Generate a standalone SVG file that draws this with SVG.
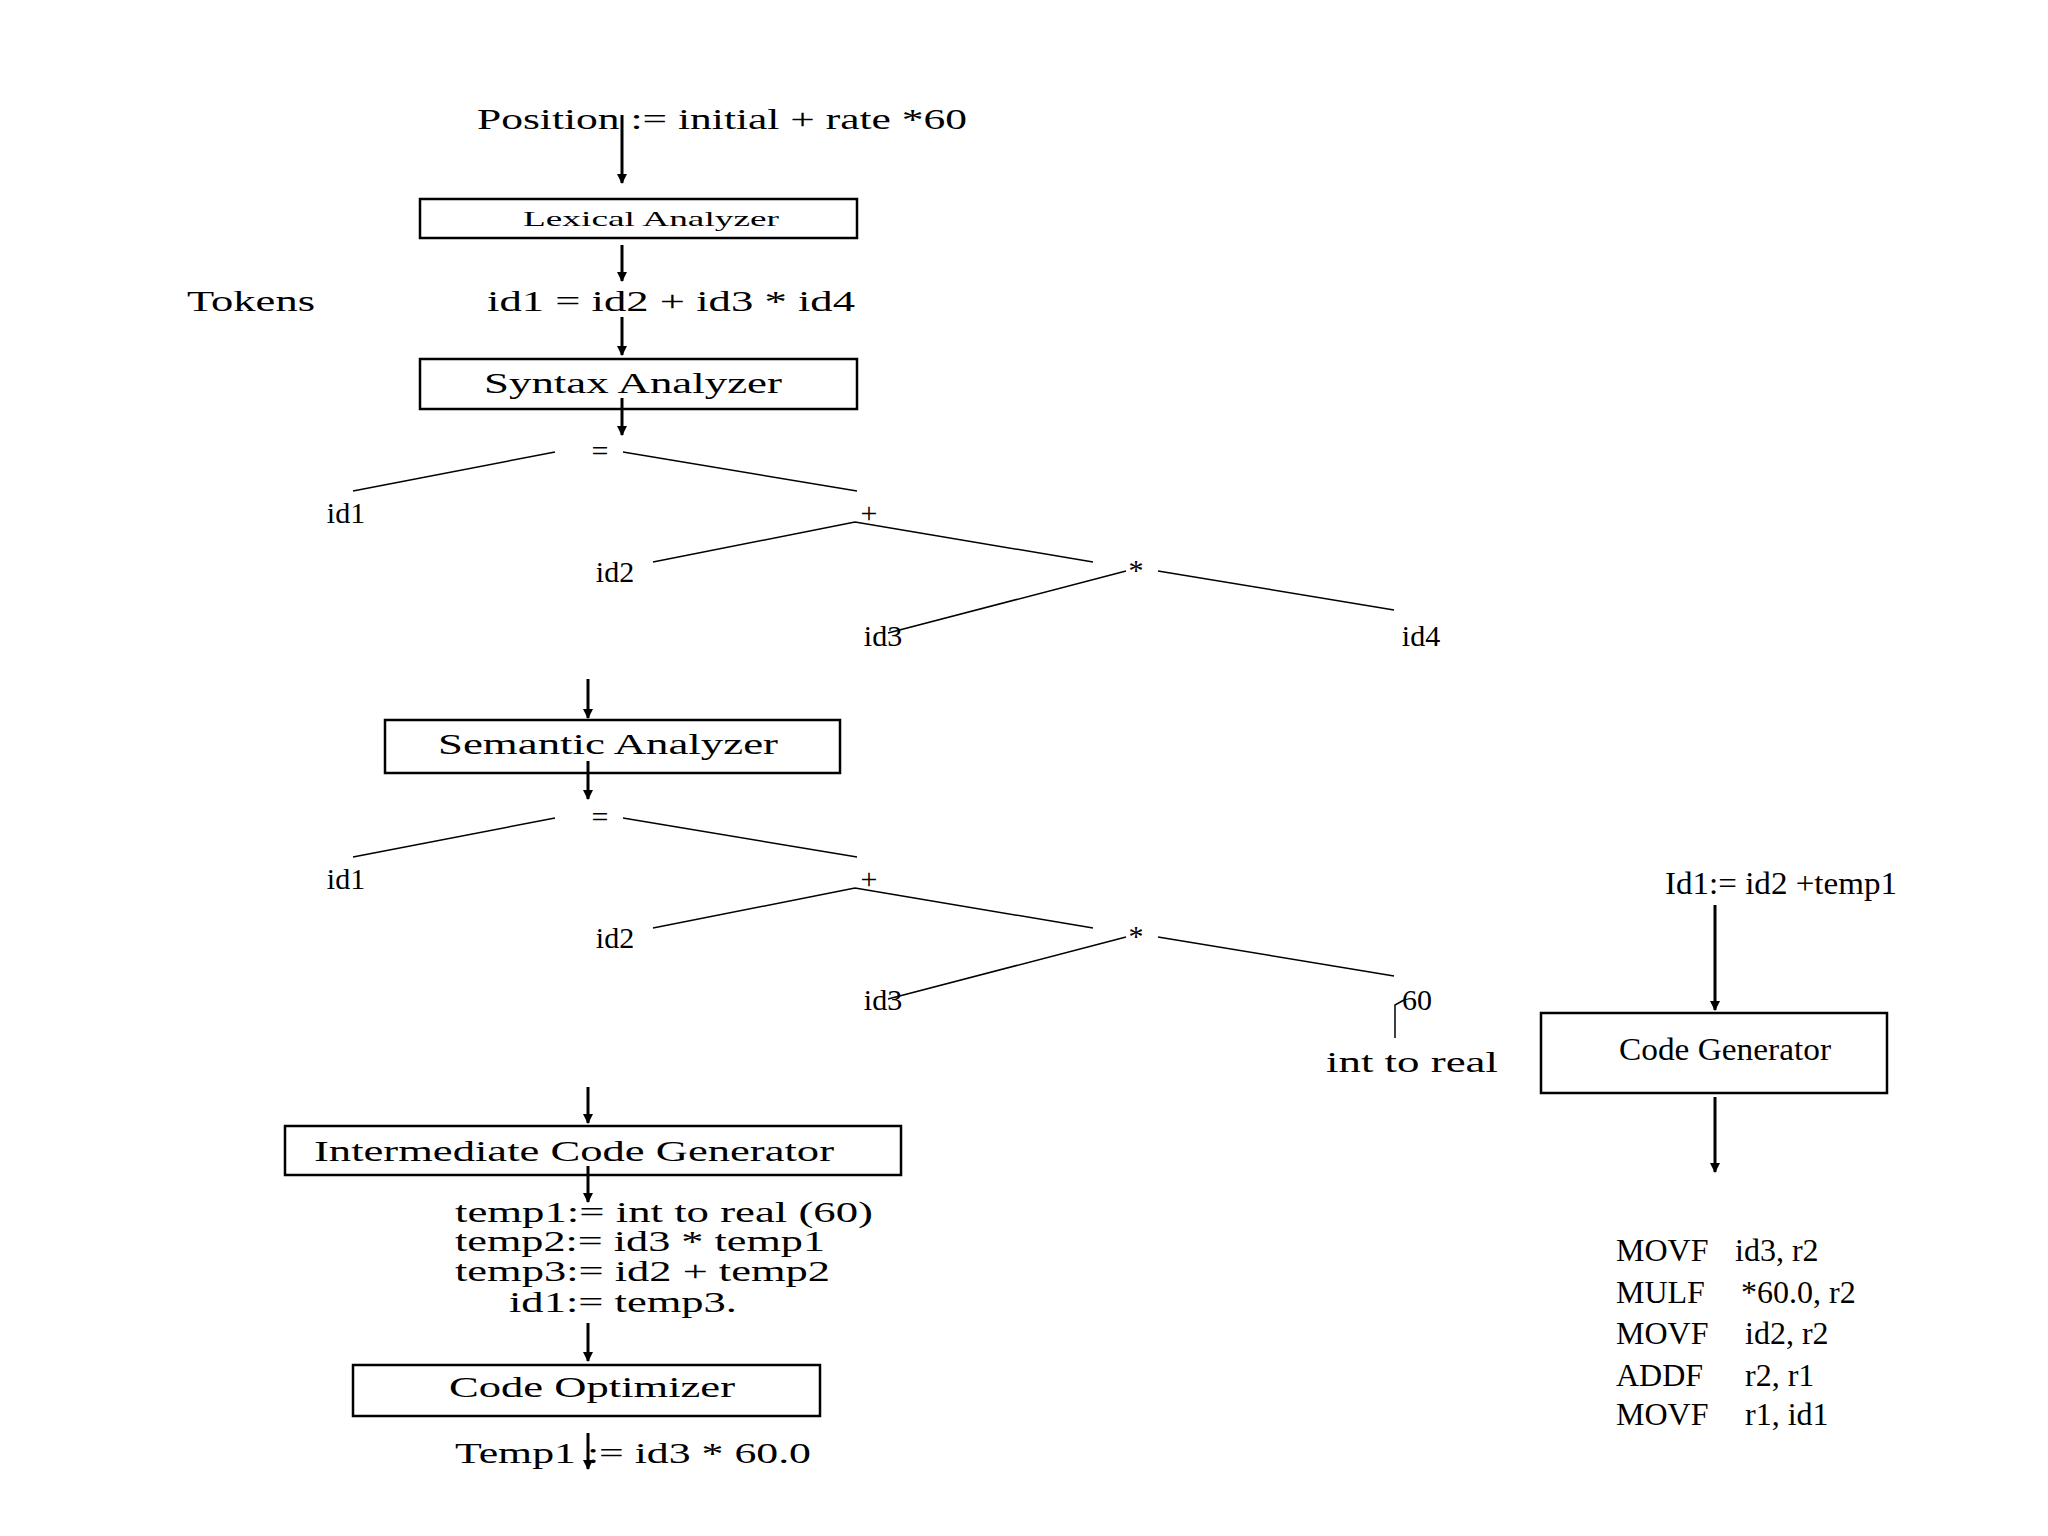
<svg xmlns="http://www.w3.org/2000/svg" width="2048" height="1536" viewBox="0 0 2048 1536">
<defs>
<marker id="ah" markerWidth="10" markerHeight="10" refX="9" refY="5" orient="auto" markerUnits="userSpaceOnUse"><path d="M0,0 L10,5 L0,10 z" fill="#000"/></marker>
<style>
text{font-family:"Liberation Serif","DejaVu Serif",serif;fill:#000}
.t{font-size:30px}
.s{font-size:22px}
.r{font-size:32px}
.box{fill:#fff;stroke:#000;stroke-width:2.5}
.ln{stroke:#000;stroke-width:1.5;fill:none}
.ar{stroke:#000;stroke-width:3;fill:none;marker-end:url(#ah)}
</style>
</defs>
<rect width="2048" height="1536" fill="#fff"/>
<g id="texts">
<text class="t" x="477" y="129" textLength="490" lengthAdjust="spacingAndGlyphs">Position := initial + rate *60</text>
<text class="t" x="187" y="311" textLength="128" lengthAdjust="spacingAndGlyphs">Tokens</text>
<text class="t" x="487" y="311" textLength="368" lengthAdjust="spacingAndGlyphs">id1 = id2 + id3 * id4</text>
<text class="t" x="455" y="1222" textLength="418" lengthAdjust="spacingAndGlyphs">temp1:= int to real (60)</text>
<text class="t" x="455" y="1251" textLength="370" lengthAdjust="spacingAndGlyphs">temp2:= id3 * temp1</text>
<text class="t" x="455" y="1281" textLength="375" lengthAdjust="spacingAndGlyphs">temp3:= id2 + temp2</text>
<text class="t" x="509" y="1312" textLength="228" lengthAdjust="spacingAndGlyphs">id1:= temp3.</text>
<text class="t" x="455" y="1463" textLength="356" lengthAdjust="spacingAndGlyphs">Temp1 := id3 * 60.0</text>
<text class="r" x="1665" y="894" textLength="232" lengthAdjust="spacingAndGlyphs">Id1:= id2 +temp1</text>
<text class="r" x="1616" y="1261">MOVF</text><text class="r" x="1735" y="1261">id3, r2</text>
<text class="r" x="1616" y="1303">MULF</text><text class="r" x="1741" y="1303">*60.0, r2</text>
<text class="r" x="1616" y="1344">MOVF</text><text class="r" x="1745" y="1344">id2, r2</text>
<text class="r" x="1616" y="1386">ADDF</text><text class="r" x="1745" y="1386">r2, r1</text>
<text class="r" x="1616" y="1425">MOVF</text><text class="r" x="1745" y="1425">r1, id1</text>
</g>
<g id="lexical"><rect class="box" x="420" y="199" width="437" height="39"/><text class="s" x="651" y="226" text-anchor="middle" textLength="256" lengthAdjust="spacingAndGlyphs">Lexical Analyzer</text></g>
<g id="syntax"><rect class="box" x="420" y="359" width="437" height="50"/><text class="t" x="633" y="393" text-anchor="middle" textLength="298" lengthAdjust="spacingAndGlyphs">Syntax Analyzer</text></g>
<g id="semantic"><rect class="box" x="385" y="720" width="455" height="53"/><text class="t" x="608" y="754" text-anchor="middle" textLength="340" lengthAdjust="spacingAndGlyphs">Semantic Analyzer</text></g>
<g id="intermediate"><rect class="box" x="285" y="1126" width="616" height="49"/><text class="t" x="574" y="1161" text-anchor="middle" textLength="520" lengthAdjust="spacingAndGlyphs">Intermediate Code Generator</text></g>
<g id="optimizer"><rect class="box" x="353" y="1365" width="467" height="51"/><text class="t" x="592" y="1397" text-anchor="middle" textLength="286" lengthAdjust="spacingAndGlyphs">Code Optimizer</text></g>
<g id="codegen"><rect class="box" x="1541" y="1013" width="346" height="80"/><text class="r" x="1725" y="1060" text-anchor="middle" textLength="212" lengthAdjust="spacingAndGlyphs">Code Generator</text></g>
<g id="tree1">
<text class="t" x="600" y="461" text-anchor="middle">=</text>
<text class="t" x="346" y="523" text-anchor="middle">id1</text>
<text class="t" x="869" y="523" text-anchor="middle">+</text>
<text class="t" x="615" y="582" text-anchor="middle">id2</text>
<text class="t" x="1136" y="580" text-anchor="middle">*</text>
<text class="t" x="883" y="646" text-anchor="middle">id3</text>
<text class="t" x="1421" y="646" text-anchor="middle">id4</text>
<path class="ln" d="M555,452 L353,491 M623,452 L857,491 M855,522 L653,562 M855,522 L1093,562 M1126,571 L888,633 M1158,571 L1394,610"/>
</g>
<g id="tree2">
<text class="t" x="600" y="827" text-anchor="middle">=</text>
<text class="t" x="346" y="889" text-anchor="middle">id1</text>
<text class="t" x="869" y="889" text-anchor="middle">+</text>
<text class="t" x="615" y="948" text-anchor="middle">id2</text>
<text class="t" x="1136" y="946" text-anchor="middle">*</text>
<text class="t" x="883" y="1010" text-anchor="middle">id3</text>
<text class="t" x="1417" y="1010" text-anchor="middle">60</text>
<text class="t" x="1412" y="1072" text-anchor="middle" textLength="172" lengthAdjust="spacingAndGlyphs">int to real</text>
<path class="ln" d="M555,818 L353,857 M623,818 L857,857 M855,888 L653,928 M855,888 L1093,928 M1126,937 L888,999 M1158,937 L1394,976"/>
<path class="ln" stroke-width="2.5" d="M1395,1038 L1395,1005 L1404,1000"/>
</g>
<g id="connectors">
<path class="ar" d="M622,115 L622,183"/>
<path class="ar" d="M622,245 L622,281"/>
<path class="ar" d="M622,317 L622,355"/>
<path class="ar" d="M622,398 L622,435"/>
<path class="ar" d="M588,679 L588,718"/>
<path class="ar" d="M588,761 L588,799"/>
<path class="ar" d="M588,1087 L588,1123"/>
<path class="ar" d="M588,1166 L588,1202"/>
<path class="ar" d="M588,1323 L588,1361"/>
<path class="ar" d="M588,1433 L588,1469"/>
<path class="ar" d="M1715,905 L1715,1010"/>
<path class="ar" d="M1715,1097 L1715,1172"/>
</g>
</svg>
